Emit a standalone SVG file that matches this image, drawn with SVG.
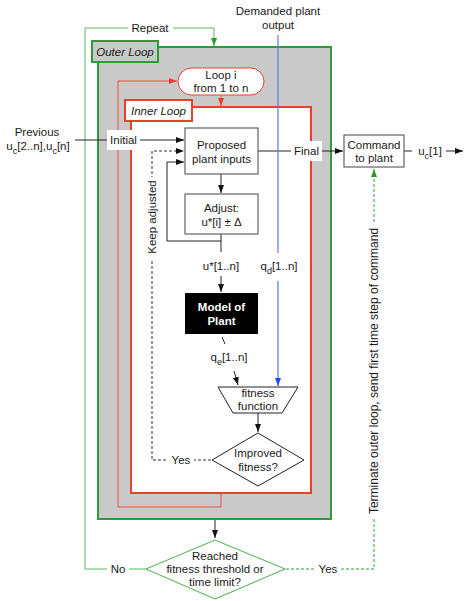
<svg xmlns="http://www.w3.org/2000/svg" width="474" height="601" viewBox="0 0 474 601">
<defs>
<style>
text{font-family:"Liberation Sans",Arial,sans-serif;font-size:11.5px;fill:#1a1a1a;text-anchor:middle}
.box{fill:#fff;stroke:#444;stroke-width:1}
.ln{fill:none;stroke:#222;stroke-width:1}
.dash{fill:none;stroke:#333;stroke-width:1;stroke-dasharray:3,2}
.gdash{fill:none;stroke:#3a9a3a;stroke-width:1;stroke-dasharray:3,2}
.lg{fill:none;stroke:#5cb85c;stroke-width:1}
.red{fill:none;stroke:#e8503c;stroke-width:1}
.blue{fill:none;stroke:#5a7ae0;stroke-width:1.2}
.bg{fill:#fff;stroke:none}
.it{font-style:italic}
</style>
<marker id="ak" viewBox="0 0 8 6" refX="8" refY="3" markerWidth="8" markerHeight="6" markerUnits="userSpaceOnUse" orient="auto"><path d="M0,0L8,3L0,6z" fill="#111"/></marker>
<marker id="ar" viewBox="0 0 8 6" refX="8" refY="3" markerWidth="8" markerHeight="6" markerUnits="userSpaceOnUse" orient="auto"><path d="M0,0L8,3L0,6z" fill="#e8402a"/></marker>
<marker id="ag" viewBox="0 0 8 6" refX="8" refY="3" markerWidth="8" markerHeight="6" markerUnits="userSpaceOnUse" orient="auto"><path d="M0,0L8,3L0,6z" fill="#2e9a2e"/></marker>
<marker id="ab" viewBox="0 0 8 6" refX="8" refY="3" markerWidth="8" markerHeight="6" markerUnits="userSpaceOnUse" orient="auto"><path d="M0,0L8,3L0,6z" fill="#2a4ae0"/></marker>
</defs>
<rect width="474" height="601" fill="#fff"/>

<g id="outer-loop">
<rect x="98" y="47" width="233" height="472" fill="#c9c9c9" stroke="#2e9a3e" stroke-width="2"/>
</g>

<g id="inner-loop-frame">
<path class="red" d="M221,493V507H118V81"/>
<rect x="131" y="107" width="180" height="386" fill="#fff" stroke="#e8402a" stroke-width="2"/>
</g>

<g id="connectors">
<path class="lg" d="M146,569H85V28H214V46" marker-end="url(#ag)"/>
<path class="red" d="M118,81H177" marker-end="url(#ar)"/>
<path class="red" d="M221,95V106" marker-end="url(#ar)"/>
<path class="ln" d="M75,140H184" marker-end="url(#ak)"/>
<path class="dash" d="M211,460H152V151H184" marker-end="url(#ak)"/>
<path class="ln" d="M221,234V252M221,241H167V162H184" marker-end="url(#ak)"/>
<path class="ln" d="M221,174V193" marker-end="url(#ak)"/>
<path class="ln" d="M221,276V292" marker-end="url(#ak)"/>
<path class="ln" d="M222,337L225,344"/>
<path class="ln" d="M234,371L238,385" marker-end="url(#ak)"/>
<path class="ln" d="M258,413V432" marker-end="url(#ak)"/>
<path class="ln" d="M258,151H343" marker-end="url(#ak)"/>
<path class="ln" d="M404,151H412"/>
<path class="ln" d="M446,151H463" marker-end="url(#ak)"/>
<path class="ln" d="M215,520V538" marker-end="url(#ak)"/>
<path class="gdash" d="M286,569H374V169" marker-end="url(#ag)"/>
<path class="blue" d="M278,35V253M278,281V386" marker-end="url(#ab)"/>
</g>

<g id="labels">
<rect class="bg" x="128" y="20" width="45" height="16"/>
<text x="150" y="32">Repeat</text>
<rect class="bg" x="107" y="561" width="22" height="16"/>
<text x="118" y="573">No</text>
<rect class="bg" x="315" y="561" width="26" height="16"/>
<text x="328" y="573">Yes</text>
<rect class="bg" x="366" y="224" width="16" height="294"/>
<text x="0" y="0" transform="translate(378,371) rotate(-90)" style="font-size:12px">Terminate outer loop, send first time step of command</text>
<rect class="bg" x="107" y="130" width="33" height="20"/>
<text x="123.5" y="144">Initial</text>
<rect class="bg" x="291" y="141" width="31" height="20"/>
<text x="306.5" y="155">Final</text>
<rect class="bg" x="144" y="177" width="16" height="82"/>
<text x="0" y="0" transform="translate(156,217) rotate(-90)">Keep adjusted</text>
<rect class="bg" x="168" y="452" width="26" height="16"/>
<text x="181" y="464">Yes</text>
<text x="37" y="136">Previous</text>
<text x="38" y="150">u<tspan font-size="9" dy="4">c</tspan><tspan dy="-4">[2..n],u</tspan><tspan font-size="9" dy="4">c</tspan><tspan dy="-4">[n]</tspan></text>
<text x="278" y="15">Demanded plant</text>
<text x="278" y="29">output</text>
<text x="279" y="270">q<tspan font-size="9" dy="4">d</tspan><tspan dy="-4">[1..n]</tspan></text>
<text x="221" y="270">u*[1..n]</text>
<text x="229" y="361">q<tspan font-size="9" dy="4">e</tspan><tspan dy="-4">[1..n]</tspan></text>
<text x="430" y="155">u<tspan font-size="9" dy="4">c</tspan><tspan dy="-4">[1]</tspan></text>
</g>

<g id="outer-loop-label">
<rect x="92" y="41" width="66" height="21" fill="#c9c9c9" stroke="#2e9a3e" stroke-width="2"/>
<text class="it" x="125" y="56">Outer Loop</text>
</g>

<g id="loop-i">
<rect x="178" y="68" width="86" height="27" rx="13.5" fill="#fff" stroke="#e8402a" stroke-width="1"/>
<text x="221" y="79">Loop i</text>
<text x="221" y="92">from 1 to n</text>
</g>

<g id="inner-loop-label">
<rect x="125" y="100" width="67" height="21" fill="#fff" stroke="#e8402a" stroke-width="2"/>
<text class="it" x="158.5" y="115">Inner Loop</text>
</g>

<g id="proposed">
<rect class="box" x="185" y="128" width="73" height="46"/>
<text x="221.5" y="149">Proposed</text>
<text x="221.5" y="163">plant inputs</text>
</g>

<g id="adjust">
<rect class="box" x="185" y="194" width="73" height="40"/>
<text x="221.5" y="212">Adjust:</text>
<text x="221.5" y="226">u*[i] ± Δ</text>
</g>

<g id="model">
<rect x="185" y="293" width="73" height="41" fill="#000"/>
<text x="221.5" y="311" font-weight="bold" style="fill:#fff">Model of</text>
<text x="221.5" y="325" font-weight="bold" style="fill:#fff">Plant</text>
</g>

<g id="fitness">
<polygon points="218,387 298,387 282,413 233,413" fill="#fff" stroke="#222" stroke-width="1"/>
<text x="258" y="397">fitness</text>
<text x="258" y="410">function</text>
</g>

<g id="improved">
<polygon points="258,433 304,460 258,486 212,460" fill="#fff" stroke="#222" stroke-width="1"/>
<text x="258" y="457">Improved</text>
<text x="258" y="471">fitness?</text>
</g>

<g id="command">
<rect class="box" x="344" y="135" width="60" height="32"/>
<text x="374" y="149">Command</text>
<text x="374" y="162">to plant</text>
</g>

<g id="reached">
<polygon points="215,540 285,569 215,599 146,569" fill="#fff" stroke="#4cae4c" stroke-width="1"/>
<text x="215" y="560">Reached</text>
<text x="215" y="573">fitness threshold or</text>
<text x="215" y="586">time limit?</text>
</g>
</svg>
